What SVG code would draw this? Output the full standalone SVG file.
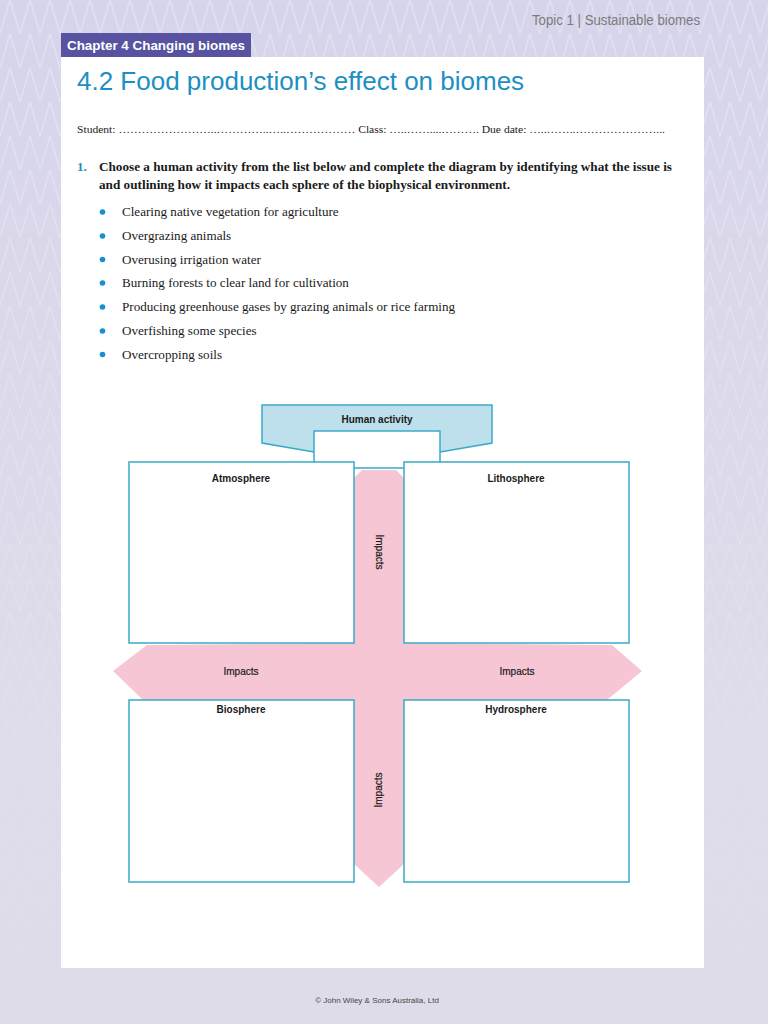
<svg xmlns="http://www.w3.org/2000/svg" width="768" height="1024" viewBox="0 0 768 1024">
<defs>
<linearGradient id="bg" x1="0" y1="0" x2="0" y2="1">
<stop offset="0" stop-color="#d6d4eb"/>
<stop offset="1" stop-color="#dfdcea"/>
</linearGradient>
<pattern id="zig" width="20" height="34" patternUnits="userSpaceOnUse">
<path d="M0 34 L10 0 L20 34" fill="none" stroke="#ffffff" stroke-opacity="0.28" stroke-width="1.5"/>
</pattern>
<linearGradient id="fade" x1="0" y1="0" x2="0" y2="1">
<stop offset="0" stop-color="#dfdcea" stop-opacity="0"/>
<stop offset="0.6" stop-color="#dfdcea" stop-opacity="0.6"/>
<stop offset="1" stop-color="#dfdcea" stop-opacity="1"/>
</linearGradient>
<style>
.serif{font-family:"Liberation Serif","Times New Roman",serif;fill:#1a1a1a}
.sans{font-family:"Liberation Sans",Arial,sans-serif}
.box{fill:#ffffff;stroke:#3aaac8;stroke-width:1.5}
.lbl{font-family:"Liberation Sans",Arial,sans-serif;font-size:10px;font-weight:bold;fill:#1a1a1a;text-anchor:middle}
.imp{font-family:"Liberation Sans",Arial,sans-serif;font-size:10px;fill:#1a1a1a;text-anchor:middle;stroke:#1a1a1a;stroke-width:0.2}
.bul{fill:#1a8fcf}
</style>
</defs>
<rect x="0" y="0" width="768" height="1024" fill="url(#bg)"/>
<rect x="0" y="0" width="768" height="1024" fill="url(#zig)"/>
<rect x="0" y="0" width="768" height="1024" fill="url(#fade)"/>

<text x="700" y="25" class="sans" font-size="14" fill="#7a7a7a" text-anchor="end" textLength="168" lengthAdjust="spacingAndGlyphs">Topic 1 | Sustainable biomes</text>

<g id="chapter-tab">
<rect x="61" y="33" width="190" height="24" fill="#5753a0"/>
<text x="67" y="50" class="sans" font-size="12.5" font-weight="bold" fill="#ffffff" textLength="178" lengthAdjust="spacingAndGlyphs">Chapter 4 Changing biomes</text>
</g>

<rect x="61" y="57" width="643" height="911" fill="#ffffff"/>

<text x="77" y="90" class="sans" font-size="26" fill="#1d8fc4">4.2 Food production’s effect on biomes</text>

<text x="77" y="133" class="serif" font-size="11" textLength="588" lengthAdjust="spacingAndGlyphs">Student: ……………………..…………..…..……………… Class: …..……....………. Due date: …..……..…………………...</text>

<text x="77" y="171" class="serif" font-size="13" font-weight="bold" style="fill:#1d8fc4">1.</text>
<text x="99" y="171" class="serif" font-size="13" font-weight="bold" textLength="573" lengthAdjust="spacingAndGlyphs">Choose a human activity from the list below and complete the diagram by identifying what the issue is</text>
<text x="99" y="189" class="serif" font-size="13" font-weight="bold" textLength="411" lengthAdjust="spacingAndGlyphs">and outlining how it impacts each sphere of the biophysical environment.</text>

<g id="bullets">
<circle cx="102.5" cy="212" r="2.8" class="bul"/>
<text x="122" y="216" class="serif" font-size="13.1">Clearing native vegetation for agriculture</text>
<circle cx="102.5" cy="236" r="2.8" class="bul"/>
<text x="122" y="240" class="serif" font-size="13.1">Overgrazing animals</text>
<circle cx="102.5" cy="259.5" r="2.8" class="bul"/>
<text x="122" y="263.5" class="serif" font-size="13.1">Overusing irrigation water</text>
<circle cx="102.5" cy="283" r="2.8" class="bul"/>
<text x="122" y="287" class="serif" font-size="13.1">Burning forests to clear land for cultivation</text>
<circle cx="102.5" cy="307" r="2.8" class="bul"/>
<text x="122" y="311" class="serif" font-size="13.1">Producing greenhouse gases by grazing animals or rice farming</text>
<circle cx="102.5" cy="331" r="2.8" class="bul"/>
<text x="122" y="335" class="serif" font-size="13.1">Overfishing some species</text>
<circle cx="102.5" cy="354.5" r="2.8" class="bul"/>
<text x="122" y="358.5" class="serif" font-size="13.1">Overcropping soils</text>
</g>

<g id="connectors">
<path d="M362 470 L396 470 L404 478 L404 643 L612 645 L642 671 L607 700 L404 700 L404 864 L379 887 L354 864 L354 700 L143 700 L113 671 L147 645 L354 643 L354 478 Z" fill="#f6c6d4"/>
<text class="imp" transform="translate(376 552) rotate(90)">Impacts</text>
<text class="imp" transform="translate(382 790) rotate(-90)">Impacts</text>
<text x="241" y="675" class="imp">Impacts</text>
<text x="517" y="675" class="imp">Impacts</text>
</g>

<g id="human-activity">
<path d="M262 405 L492 405 L492 443 L440 452 L314 452 L262 443 Z" fill="#bde0ec" stroke="#3aaac8" stroke-width="1.5"/>
<text x="377" y="423" class="lbl">Human activity</text>
<rect x="314" y="431" width="126" height="37" class="box"/>
</g>

<g id="atmosphere">
<rect x="129" y="462" width="225" height="181" class="box"/>
<text x="241" y="482" class="lbl">Atmosphere</text>
</g>
<g id="lithosphere">
<rect x="404" y="462" width="225" height="181" class="box"/>
<text x="516" y="482" class="lbl">Lithosphere</text>
</g>
<g id="biosphere">
<rect x="129" y="700" width="225" height="182" class="box"/>
<text x="241" y="713" class="lbl">Biosphere</text>
</g>
<g id="hydrosphere">
<rect x="404" y="700" width="225" height="182" class="box"/>
<text x="516" y="713" class="lbl">Hydrosphere</text>
</g>

<text x="377" y="1003" class="sans" font-size="8" fill="#444" text-anchor="middle">© John Wiley &amp; Sons Australia, Ltd</text>
</svg>
